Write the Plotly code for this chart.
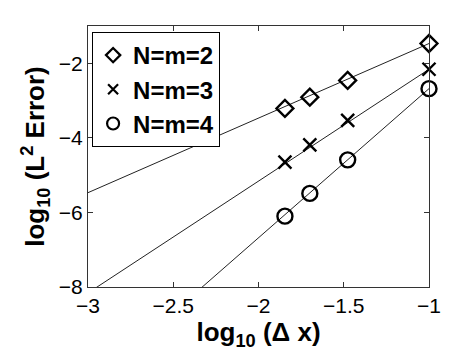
import plotly.graph_objects as go

# data
log_dx = [-1.845, -1.699, -1.477, -1.0]
err_m2 = [-3.21, -2.91, -2.46, -1.47]
err_m3 = [-4.65, -4.19, -3.53, -2.16]
err_m4 = [-6.10, -5.49, -4.59, -2.68]

# reference (fit) lines, endpoints
fit_x = [-3.0, -1.0]
fit_m2 = [-5.47, -1.47]
fit_m3 = [-8.16, -2.16]
fit_m4 = [-10.68, -2.68]

labels = ["N=m=2", "N=m=3", "N=m=4"]
symbols = ["diamond-open", "x-thin-open", "circle-open"]
sizes = [13, 13, 15]
legend_sizes = [11, 10, 12]

fig = go.Figure()
for fy in [fit_m2, fit_m3, fit_m4]:
    fig.add_trace(go.Scatter(x=fit_x, y=fy, mode="lines",
                             line=dict(color="#222222", width=1),
                             showlegend=False, hoverinfo="skip"))
for ys, lab, sym, sz in zip([err_m2, err_m3, err_m4], labels, symbols, sizes):
    fig.add_trace(go.Scatter(x=log_dx, y=ys, mode="markers", name=lab,
                             showlegend=False, cliponaxis=False,
                             marker=dict(symbol=sym, size=sz, color="black",
                                         line=dict(color="black", width=2.4))))
# legend entries
for lab, sym, sz in zip(labels, symbols, legend_sizes):
    fig.add_trace(go.Scatter(x=[None], y=[None], mode="markers",
                             name="<b>" + lab + "</b>",
                             marker=dict(symbol=sym, size=sz, color="black",
                                         line=dict(color="black", width=2.2))))

axis_common = dict(showline=True, linecolor="#333333", linewidth=1.2, mirror="ticks",
                   ticks="inside", ticklen=5, tickcolor="#333333",
                   showgrid=False, zeroline=False,
                   tickfont=dict(family="Liberation Sans, Arial", size=21, color="black"))

fig.update_layout(
    width=474, height=355,
    margin=dict(l=88, r=45, t=26, b=68),
    paper_bgcolor="white", plot_bgcolor="white",
    xaxis=dict(range=[-3, -1], tickvals=[-3, -2.5, -2, -1.5, -1],
               ticktext=["−3", "−2.5", "−2", "−1.5", "−1"],
               title=dict(text="<b>log<sub>10</sub> (Δ x)</b>", standoff=2,
                          font=dict(family="Liberation Sans, Arial", size=26, color="black")),
               **axis_common),
    yaxis=dict(range=[-8, -1], tickvals=[-8, -6, -4, -2],
               ticktext=["−8", "−6", "−4", "−2"],
               title=dict(text="<b>log<sub>10</sub> (L<sup>2</sup> Error)</b>", standoff=6,
                          font=dict(family="Liberation Sans, Arial", size=26, color="black")),
               **axis_common),
    legend=dict(x=0.012, y=0.977, xanchor="left", yanchor="top",
                bgcolor="white", bordercolor="black", borderwidth=1,
                font=dict(family="Liberation Sans, Arial", size=24, color="black"),
                itemwidth=30),
    showlegend=True,
)

fig.write_html("out.html")
